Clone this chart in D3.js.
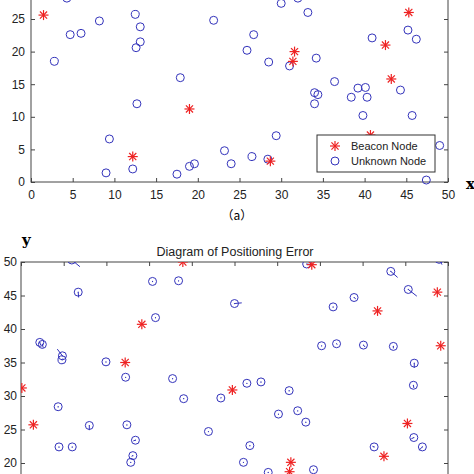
<!DOCTYPE html><html><head><meta charset="utf-8"><script src="https://cdn.jsdelivr.net/npm/d3@7"></script>
<style>body{margin:0;background:#fff}svg{display:block}</style></head><body><svg id="c" width="474" height="474"></svg>
<script>
const xTicks=[0,5,10,15,20,25,30,35,40,45,50];
const yTicksA=[0,5,10,15,20,25];
const beaconA=[[1.5,25.6],[19,11.2],[12.2,3.9],[28.7,3.2],[31.6,20],[31.4,18.5],[42.5,21],[43.2,15.8],[45.3,26],[40.7,7.2]];
const unknownA=[[4.3,28.2],[8.2,24.7],[4.7,22.6],[6,22.8],[2.8,18.5],[12.5,25.7],[13.1,23.8],[13.1,21.5],[12.6,20.6],[12.7,12],[17.9,16],[21.9,24.8],[26.7,22.6],[25.9,20.2],[28.5,18.4],[31,17.8],[30,27.4],[32,28.2],[33.2,26],[34.2,19],[36.4,15.4],[34,13.7],[34.4,13.4],[34,12],[38.4,13],[39.2,14.4],[40.1,14.5],[40.3,13],[39.8,10.2],[40.9,22.1],[44.3,14.1],[45.7,10.2],[45.2,23.3],[46.2,21.9],[49,5.6],[47.4,0.3],[9.4,6.6],[9,1.4],[12.2,2],[17.5,1.2],[19,2.4],[19.6,2.8],[23.2,4.8],[24,2.8],[26.5,3.9],[28.4,3.5],[29.4,7.1]];
const xTicksB=[0,10,20,30,40,50,60,70,80,90,100];
const yTicksB=[20,25,30,35,40,45,50];
const beaconB=[[0.2,31.2],[2.9,25.7],[28.3,40.7],[24.4,35],[37.9,50],[49.5,30.9],[68.1,49.6],[63.2,20.1],[62.9,18.7],[83.5,42.7],[97.5,45.5],[98.3,37.5],[90.5,25.9],[85,21]];
// [x, y, trueX, trueY]
const unknownB=[[13.4,45.5,13.5,44.7],[4.4,38,4.6,37.6],[5,37.7,5.2,37.2],[9.7,36,8.5,37],[9.6,35.4,9.8,35.6],[19.9,35.1,19.9,35],[24.5,32.8,24.5,32.7],[8.7,28.4,8.7,28.3],[16,25.6,16,24.9],[24.8,25.7,24.8,25.6],[26.8,23.4,26.3,23.3],[8.9,22.4,8.9,22.3],[12,22.4,12,22.3],[26.2,21.1,25.9,21],[25.7,20.1,25.7,20],[30.8,47.1,30.8,47],[36.9,47.2,36.9,47.1],[31.5,41.7,31.5,41.6],[35.5,32.6,35.5,32.5],[38.1,29.6,38.1,29.7],[43.9,24.7,43.9,24.6],[46.8,29.7,46.9,29.8],[50,43.8,51.7,43.9],[52.9,31.9,52.9,31.8],[56.2,32.1,56.2,32],[53.6,22.6,53.6,22.5],[52.1,20.1,52.1,20],[57.9,18.6,57.9,18.5],[60.3,27.3,60.3,27.2],[62.8,30.8,62.8,30.7],[64.8,27.8,64.8,27.7],[66.7,26.1,66.7,26],[66.9,49.7,68.1,49.6],[68.5,19,68.5,18.9],[73.1,43.3,73.1,43.2],[78,44.7,78.4,44.5],[70.4,37.5,70.4,37.4],[73.9,37.8,74.1,37.7],[80.2,37.6,80.6,37.3],[87.2,37.4,87.2,37.1],[86.6,48.6,88.2,47.7],[90.7,45.9,92.7,44.9],[92.1,34.9,92.1,34.2],[91.9,31.6,92,31.2],[92,23.8,91.4,23.6],[94,22.4,93.2,21.9],[82.7,22.4,82.3,22.5],[11.9,50.3,13.8,49.3],[97.9,50.4,98.6,49.6],[5,17.5,4.6,18.3]];
const svg=d3.select("#c");
const F="Arial, 'Liberation Sans', sans-serif";
function star(g,x,y){const r=5;[[0,1],[1,0],[0.71,0.71],[0.71,-0.71]].forEach(([a,b])=>g.append("line").attr("x1",x-r*a).attr("y1",y-r*b).attr("x2",x+r*a).attr("y2",y+r*b).attr("stroke","#ee2222").attr("stroke-width",1.2));}
// panel A
const xa=d3.scaleLinear().domain([0,50]).range([31,448]);
const ya=d3.scaleLinear().domain([0,30]).range([182,-13.6]);
const ga=svg.append("g");
ga.append("rect").attr("x",31).attr("y",-13.6).attr("width",417).attr("height",195.6).attr("fill","none").attr("stroke","#444");
const axa=ga.append("g").attr("transform","translate(0,182)").call(d3.axisBottom(xa).tickValues(xTicks).tickSize(-4).tickPadding(8));
const aya=ga.append("g").attr("transform","translate(31,0)").call(d3.axisLeft(ya).tickValues(yTicksA).tickSize(-4).tickPadding(6));
ga.append("g").attr("transform","translate(448,0)").call(d3.axisRight(ya).tickValues(yTicksA).tickSize(-4).tickFormat(""));
[axa,aya].forEach(a=>{a.selectAll("text").attr("font-family",F).attr("font-size",12).attr("fill","#222");});
ga.selectAll(".domain").remove();ga.selectAll(".tick line").attr("stroke","#444");
unknownA.forEach(d=>ga.append("circle").attr("cx",xa(d[0])).attr("cy",ya(d[1])).attr("r",4).attr("fill","none").attr("stroke","#3333bb").attr("stroke-width",1));
beaconA.forEach(d=>star(ga,xa(d[0]),ya(d[1])));
const lg=ga.append("g");
lg.append("rect").attr("x",317).attr("y",135).attr("width",118).attr("height",37).attr("fill","#fff").attr("stroke","#333");
star(lg,335,146);lg.append("circle").attr("cx",335).attr("cy",161).attr("r",4).attr("fill","none").attr("stroke","#3333bb");
lg.append("text").attr("x",351).attr("y",150).text("Beacon Node").attr("font-family",F).attr("font-size",11).attr("fill","#222");
lg.append("text").attr("x",351).attr("y",165).text("Unknown Node").attr("font-family",F).attr("font-size",11).attr("fill","#222");
svg.append("text").attr("x",466).attr("y",189).text("x").attr("font-family","'DejaVu Serif',serif").attr("font-weight","bold").attr("font-size",15);
svg.append("text").attr("x",237).attr("y",220).attr("text-anchor","middle").text("（a）").attr("font-family","'Noto Sans CJK SC',serif").attr("font-size",12);
// panel B
const xb=d3.scaleLinear().domain([0,100]).range([21,448]);
const yb=d3.scaleLinear().domain([0,50]).range([597,262]);
const gb=svg.append("g");
gb.append("rect").attr("x",21).attr("y",262).attr("width",427).attr("height",335).attr("fill","none").attr("stroke","#444");
gb.append("g").attr("transform","translate(0,262)").call(d3.axisTop(xb).tickValues(xTicksB).tickSize(-4).tickFormat(""));
const ayb=gb.append("g").attr("transform","translate(21,0)").call(d3.axisLeft(yb).tickValues(yTicksB).tickSize(-4).tickPadding(4));
gb.append("g").attr("transform","translate(448,0)").call(d3.axisRight(yb).tickValues(yTicksB).tickSize(-4).tickFormat(""));
ayb.selectAll("text").attr("font-family",F).attr("font-size",12).attr("fill","#222");
gb.selectAll(".domain").remove();gb.selectAll(".tick line").attr("stroke","#444");
const clip=svg.append("clipPath").attr("id","cb");clip.append("rect").attr("x",21).attr("y",262).attr("width",427).attr("height",335);
const pb=gb.append("g").attr("clip-path","url(#cb)");
unknownB.forEach(d=>{
 pb.append("circle").attr("cx",xb(d[0])).attr("cy",yb(d[1])).attr("r",4).attr("fill","none").attr("stroke","#3333bb");
 pb.append("circle").attr("cx",xb(d[0])).attr("cy",yb(d[1])).attr("r",0.6).attr("fill","#3333bb");
 pb.append("line").attr("x1",xb(d[0])).attr("y1",yb(d[1])).attr("x2",xb(d[2])).attr("y2",yb(d[3])).attr("stroke","#3333bb");
});
beaconB.forEach(d=>star(pb,xb(d[0]),yb(d[1])));
svg.append("text").attr("x",235).attr("y",256).attr("text-anchor","middle").text("Diagram of Positioning Error").attr("font-family",F).attr("font-size",12.5).attr("fill","#222");
svg.append("text").attr("x",22).attr("y",245).text("y").attr("font-family","'DejaVu Serif',serif").attr("font-weight","bold").attr("font-size",15);
</script></body></html>
